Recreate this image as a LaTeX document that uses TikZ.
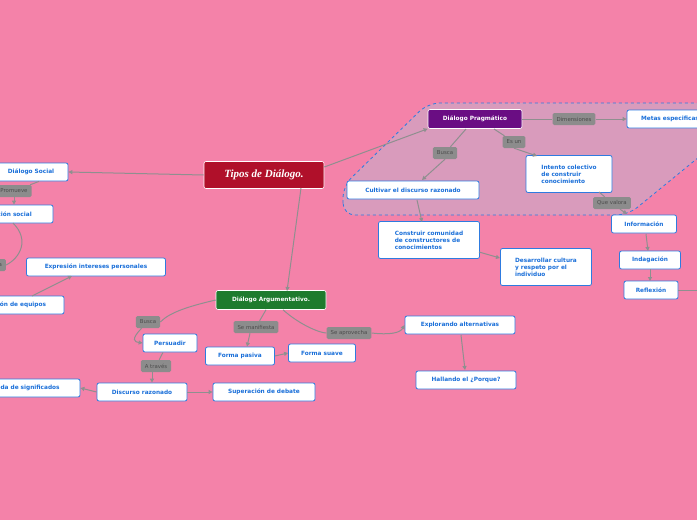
\documentclass[tikz,border=0pt]{standalone}
\usepackage{fontspec}
\setsansfont{DejaVu Sans}
\setmainfont{Liberation Serif}
\usetikzlibrary{arrows.meta}
\definecolor{bg}{HTML}{F482A9}
\definecolor{blu}{HTML}{2E7BE0}
\definecolor{blt}{HTML}{1A6FD9}
\definecolor{gry}{HTML}{8C8C8C}
\definecolor{lin}{HTML}{8F8F8F}
\definecolor{reg}{HTML}{D99BBC}
\tikzset{
 topic/.style={draw=blu,fill=white,rounded corners=2pt,line width=0.8pt,font=\sffamily\bfseries\fontsize{5.8}{7}\selectfont,text=blt,inner xsep=5pt,minimum height=18pt,align=left},
 lbl/.style={fill=gry,rounded corners=1.5pt,font=\sffamily\fontsize{5.4}{6.5}\selectfont,text=black!70,minimum height=12pt,inner xsep=4pt},
 main/.style={draw=white,rounded corners=2pt,line width=0.6pt,font=\sffamily\bfseries\fontsize{5.8}{7}\selectfont,text=white,minimum height=19pt},
 con/.style={draw=lin,line width=1pt},
 arr/.style={con,-{Triangle[length=4pt,width=4pt]}}
}
\begin{document}
\begin{tikzpicture}[x=1pt,y=-1pt]
\fill[bg] (0,0) rectangle (697,520);
\useasboundingbox (0,0) rectangle (697,520);
\clip (0,0) rectangle (697,520);
% region
\draw[blu,dashed,line width=0.8pt,fill=reg,rounded corners=12pt]
 (343,215) -- (343,186) -- (428,103) -- (710,103) -- (710,148) -- (628,215) -- cycle;
% nodes
\node[draw=white,fill={rgb,255:red,176;green,16;blue,42},rounded corners=2pt,line width=0.6pt,font=\rmfamily\bfseries\itshape\fontsize{11}{13}\selectfont,text=white,minimum width=120pt,minimum height=27pt] (tipos) at (264,175) {Tipos de Diálogo.};
\node[topic,minimum width=74pt] (dsoc) at (31,172) {Diálogo Social};
\node[lbl] (prom) at (14,191) {Promueve};
\node[topic,minimum width=100pt] (isoc) at (3,214) {Interacción social};
\node[lbl] (lx) at (-8,265) {Genera};
\node[topic,minimum width=139pt] (expr) at (96,267) {Expresión intereses personales};
\node[topic,minimum width=108pt] (feq) at (10,305) {Formación de equipos};
\node[main,fill={rgb,255:red,30;green,123;blue,46},minimum width=110pt] (arg) at (271,300) {Diálogo Argumentativo.};
\node[lbl] (busca1) at (148,322) {Busca};
\node[topic,minimum width=54pt] (pers) at (170,343) {Persuadir};
\node[lbl] (atr) at (156,366) {A través};
\node[topic,minimum width=90pt] (disc) at (142,392) {Discurso razonado};
\node[topic,minimum width=124pt] (bsig) at (18,388) {Búsqueda de significados};
\node[topic,minimum width=102pt] (sup) at (264,392) {Superación de debate};
\node[lbl] (sman) at (256,327) {Se manifiesta};
\node[topic,minimum width=69pt] (fpas) at (240,356) {Forma pasiva};
\node[topic,minimum width=67pt] (fsua) at (322,353) {Forma suave};
\node[lbl] (sapr) at (349,333) {Se aprovecha};
\node[topic,minimum width=110pt] (expl) at (460,325) {Explorando alternativas};
\node[topic,minimum width=100pt] (hall) at (466,380) {Hallando el ¿Porque?};
\node[main,fill={rgb,255:red,106;green,13;blue,131},minimum width=94pt] (prag) at (475,119) {Diálogo Pragmático};
\node[lbl] (dim) at (574,119) {Dimensiones};
\node[topic,minimum width=86pt] (metas) at (670,119) {Metas especificas};
\node[lbl] (busca2) at (445,153) {Busca};
\node[topic,minimum width=132pt] (cult) at (413,190) {Cultivar el discurso razonado};
\node[lbl] (esun) at (514,142) {Es un};
\node[topic,minimum width=86pt,minimum height=37pt] (int) at (569,174) {Intento colectivo\\de construir\\conocimiento};
\node[topic,minimum width=101pt,minimum height=37pt] (comu) at (429,240) {Construir comunidad\\de constructores de\\conocimientos};
\node[topic,minimum width=91pt,minimum height=37pt] (desa) at (546,267) {Desarrollar cultura\\y respeto por el\\individuo};
\node[lbl] (qval) at (612,203) {Que valora};
\node[topic,minimum width=65pt] (info) at (644,224) {Información};
\node[topic,minimum width=61pt] (inda) at (650,260) {Indagación};
\node[topic,minimum width=54pt] (refl) at (651,290) {Reflexión};
\node[lbl] (rx) at (714,290) {Genera};
% connectors
\draw[arr] (tipos.west) -- (dsoc.east);
\draw[con] (dsoc.south) ++(8,0) -- (prom);
\draw[arr] (prom.south) -- (isoc.north -| prom.south);
\draw[con] (13,223) .. controls (30,240) and (20,258) .. (lx.east);
\draw[arr] (32,296) -- (72,276);
\draw[arr] (tipos.east) ++(0,-8) -- (prag.west|-prag.south);
\draw[arr] (301,188) -- (287,291);
\draw[con] (arg.west) .. controls (190,306) and (170,312) .. (busca1.east);
\draw[arr] (busca1.south west) ++(6,0) .. controls (130,340) and (135,342) .. (pers.west);
\draw[con] (pers.south) ++(-7,0) -- (atr);
\draw[arr] (atr.south) ++(-4,0) -- (disc.north -| 152,0);
\draw[arr] (disc.west) -- (bsig.east);
\draw[arr] (disc.east) -- (sup.west);
\draw[con] (arg.south) ++(-5,0) -- (sman);
\draw[arr] (sman.south) ++(-6,0) -- (fpas.north -| 247,0);
\draw[arr] (fpas.east) -- (fsua.west);
\draw[con] (arg.south) ++(12,0) .. controls (300,325) and (320,333) .. (sapr.west);
\draw[arr] (sapr.east) .. controls (390,335) and (400,333) .. (expl.west);
\draw[arr] (461,335) -- (465,370);
\draw[con] (prag.east) -- (dim.west);
\draw[arr] (dim.east) -- (metas.west);
\draw[con] (466,129) -- (busca2);
\draw[arr] (busca2.south) -- (422,180);
\draw[con] (494,129) -- (esun);
\draw[arr] (esun.south) -- (537,156);
\draw[arr] (417,200) -- (422,222);
\draw[arr] (479,252) -- (500,258);
\draw[con] (599,192) -- (qval);
\draw[arr] (qval.south) ++(8,0) -- (627,214);
\draw[arr] (646,234) -- (648,251);
\draw[arr] (650,269) -- (650,281);
\draw[con] (refl.east) -- (rx.west);
\end{tikzpicture}
\end{document}
